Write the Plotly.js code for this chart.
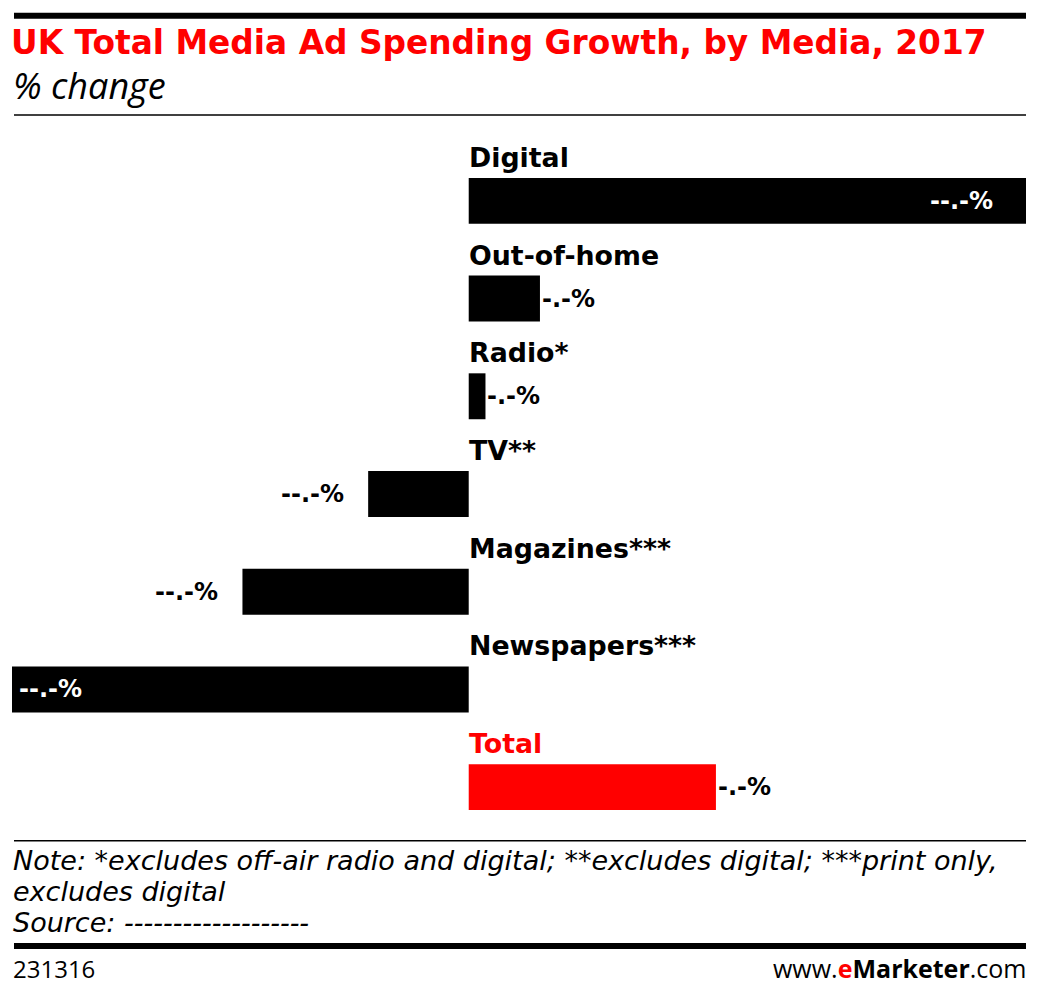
<!DOCTYPE html>
<html>
<head>
<meta charset="utf-8">
<script src="https://cdn.plot.ly/plotly-3.0.1.min.js"></script>
<style>
  html, body { margin: 0; padding: 0; background: #ffffff; }
  #chart { width: 1039px; height: 995px; }
</style>
</head>
<body>
<div id="chart"></div>
<script>
// ---- data ----
const categories = ["Digital", "Out-of-home", "Radio*", "TV**", "Magazines***", "Newspapers***", "Total"];
const values = [13.3, 1.7, 0.4, -2.4, -5.4, -10.9, 5.9];
const valueLabels = ["--.-%", "-.-%", "-.-%", "--.-%", "--.-%", "--.-%", "-.-%"];
const titleText = "UK Total Media Ad Spending Growth, by Media, 2017";
const subtitleText = "% change";
const noteLines = [
  "Note: *excludes off-air radio and digital; **excludes digital; ***print only,",
  "excludes digital",
  "Source: -------------------"
];
const chartId = "231316";

// ---- layout helpers ----
const W = 1039, H = 995;
const M = { l: 12, r: 13, t: 152, b: 159 };
const PW = W - M.l - M.r, PH = H - M.t - M.b;
const px2x = p => (p - M.l) / PW;
const px2y = p => (H - M.b - p) / PH;

const RED = "#ff0000";
const BLACK = "#000000";
const boldFont = "DejaVu Sans, Verdana, sans-serif";
const lightFont = "Open Sans, DejaVu Sans, sans-serif";
const noteFont = "DejaVu Sans, Verdana, sans-serif";

const barColors = categories.map(c => c === "Total" ? RED : BLACK);

const trace = {
  type: "bar",
  orientation: "h",
  y: categories,
  x: values,
  marker: { color: barColors, line: { width: 0 } },
  hoverinfo: "skip"
};

const annotations = [];

// category labels above bars
categories.forEach((c, i) => {
  annotations.push({
    xref: "x", yref: "y", x: 0, y: c,
    xanchor: "left", yanchor: "middle",
    yshift: 43.5, xshift: -2,
    text: c, showarrow: false,
    font: { family: boldFont, size: 26.8, weight: 700, color: c === "Total" ? RED : BLACK }
  });
});

// value labels
const maxAbs = Math.max(...values.map(Math.abs));
values.forEach((v, i) => {
  const inside = Math.abs(v) > maxAbs * 0.6;
  let xanchor, xshift, color;
  if (inside) {
    color = "#ffffff";
    if (v >= 0) { xanchor = "right"; xshift = -31; } else { xanchor = "left"; xshift = 5; }
  } else {
    color = BLACK;
    if (v >= 0) { xanchor = "left"; xshift = 0; } else { xanchor = "right"; xshift = -22; }
  }
  annotations.push({
    xref: "x", yref: "y", x: v, y: categories[i],
    xanchor: xanchor, yanchor: "middle", xshift: xshift,
    text: valueLabels[i], showarrow: false,
    font: { family: boldFont, size: 24, weight: 700, color: color }
  });
});

// subtitle
annotations.push({
  xref: "paper", yref: "paper", x: px2x(11), y: px2y(85),
  xanchor: "left", yanchor: "middle", showarrow: false,
  text: "<i>" + subtitleText + "</i>",
  font: { family: lightFont, size: 36, color: BLACK }
});

// note + source, one line each
const noteSize = 27;
const noteBaselines = [870, 901, 932];
noteLines.forEach((t, i) => {
  annotations.push({
    xref: "paper", yref: "paper", x: px2x(11), y: px2y(noteBaselines[i] - 0.346 * noteSize),
    xanchor: "left", yanchor: "middle", align: "left", showarrow: false,
    text: "<i>" + t + "</i>",
    font: { family: noteFont, size: noteSize, color: BLACK }
  });
});

// footer id
annotations.push({
  xref: "paper", yref: "paper", x: px2x(11), y: px2y(968),
  xanchor: "left", yanchor: "middle", showarrow: false,
  text: chartId,
  font: { family: lightFont, size: 24, color: BLACK }
});

// footer brand
annotations.push({
  xref: "paper", yref: "paper", x: px2x(1028), y: px2y(968),
  xanchor: "right", yanchor: "middle", showarrow: false,
  text: "www.<b><span style='color:" + RED + "'>e</span>Marketer</b>.com",
  font: { family: lightFont, size: 25, color: BLACK }
});

const hline = (y, w) => ({
  type: "line", xref: "paper", yref: "paper",
  x0: px2x(14), x1: px2x(1026), y0: px2y(y), y1: px2y(y),
  line: { color: BLACK, width: w }
});

const layout = {
  width: W, height: H,
  margin: M,
  paper_bgcolor: "#ffffff",
  plot_bgcolor: "#ffffff",
  showlegend: false,
  bargap: 0.53,
  title: {
    text: titleText,
    xref: "container", x: 11 / W, xanchor: "left",
    yref: "container", y: 1 - 43 / H, yanchor: "middle",
    font: { family: boldFont, size: 32.8, weight: 700, color: RED }
  },
  xaxis: {
    range: [-10.9, 13.3],
    showgrid: false, zeroline: false, showticklabels: false, showline: false, ticks: "",
    fixedrange: true
  },
  yaxis: {
    type: "category",
    categoryorder: "array", categoryarray: categories,
    range: [categories.length - 0.5, -0.5],
    showgrid: false, zeroline: false, showticklabels: false, showline: false, ticks: "",
    fixedrange: true
  },
  annotations: annotations,
  shapes: [
    hline(15.7, 6),
    hline(115, 1.5),
    hline(840.7, 1.5),
    hline(946, 6)
  ]
};

Plotly.newPlot("chart", [trace], layout, { displayModeBar: false, staticPlot: true });
</script>
</body>
</html>
